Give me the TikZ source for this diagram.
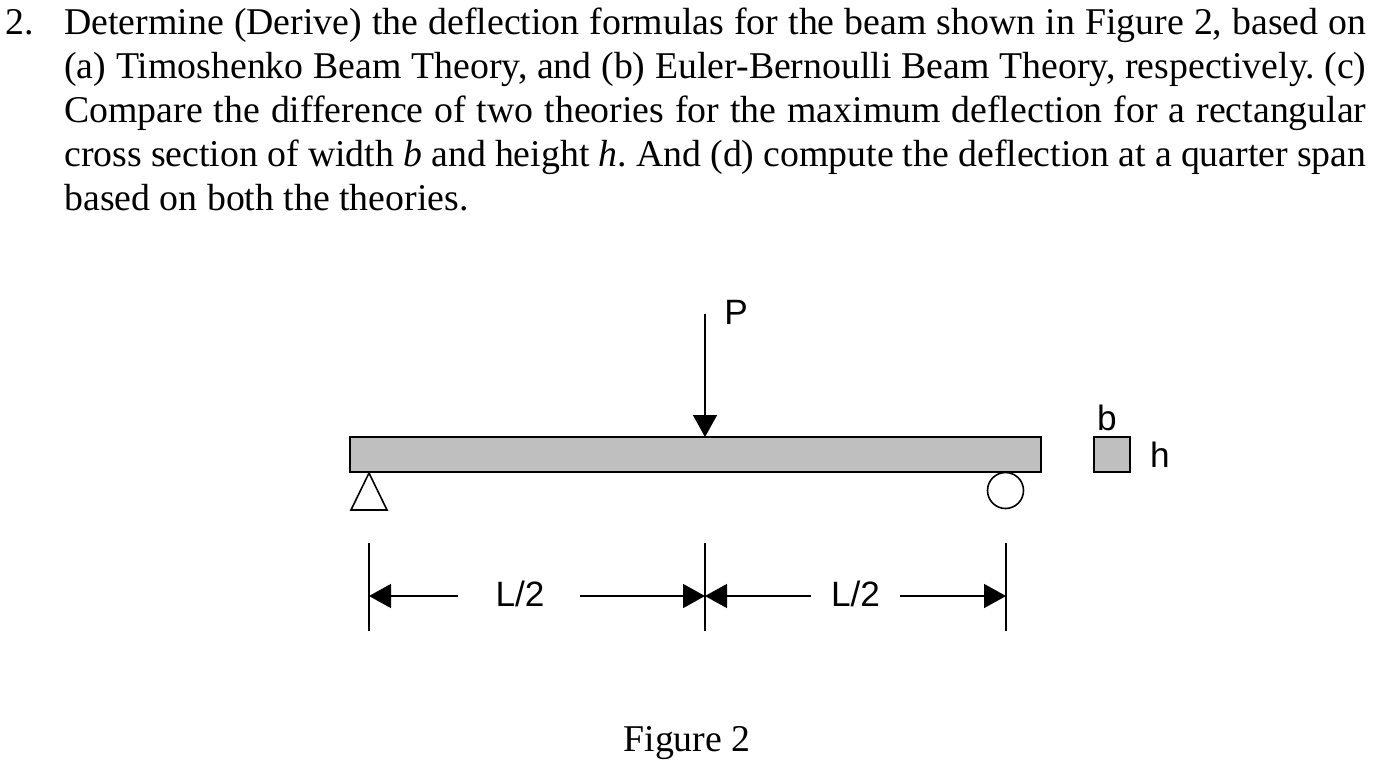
\documentclass[tikz,border=0pt]{standalone}
\usepackage{fontspec}
\setmainfont{Liberation Serif}
\setsansfont{Liberation Sans}
\usetikzlibrary{arrows.meta}
\tikzset{
%Define standard arrow tip
    >={Triangle[length=11pt,width=12pt]},
%Define style for beam and section
    beam/.style={
           rectangle,
           draw=black,
           line width=0.9pt,
           fill=black!25,
           inner sep=0pt,
           minimum height=17.5pt},
%Define style for supports
    support/.style={
           draw=black,
           line width=0.8pt,
           fill=white,
           inner sep=0pt},
%Define style for texts
    para/.style={
           anchor=north west,
           inner sep=0pt,
           text width=651pt,
           align=justify,
           font=\fontsize{18.9}{22}\selectfont\frenchspacing},
    lab/.style={
           inner sep=0pt,
           font=\sffamily\fontsize{17.6}{20}\selectfont},
% Define arrow style
    pil/.style={
           ->,
           line width=0.75pt},
    tick/.style={
           -,
           line width=0.75pt}
}
\begin{document}
\begin{tikzpicture}[x=0.5pt,y=-0.5pt]
 \useasboundingbox (0,0) rectangle (1384,770);
 \node[para,text width=20pt] (num) at (5,3) {\strut 2.};
 \node[para] (question) at (64,3) {\strut Determine (Derive) the deflection formulas for the beam shown in Figure 2, based on\linebreak
 (a) Timoshenko Beam Theory, and (b) Euler-Bernoulli Beam Theory, respectively. (c)\linebreak
 Compare the difference of two theories for the maximum deflection for a rectangular\linebreak
 cross section of width \textit{b} and height \textit{h}. And (d) compute the deflection at a quarter span\linebreak
 based on both the theories.};
 % beam, section
 \node[beam,minimum width=345.5pt] (bar) at (695.5,454.5) {};
 \node[beam,minimum width=18pt] (sec) at (1112,454.5) {};
 \node[support,circle,minimum size=18pt] (roller) at (1005.5,490.5) {};
 \coordinate (hinge) at (369,473);
 \draw[support] (hinge) -- (387,510) -- (351,510) -- cycle;
 % load
 \coordinate (top) at (705,314);
 \coordinate (mid) at (705,437);
 \draw[pil] (top) -- (mid);
 \node[lab] (P) at (736,312) {P};
 \node[lab] (b) at (1107,418) {b};
 \node[lab] (h) at (1160,455) {h};
 % dimensions
 \foreach \nm/\xx in {A/369,B/705,C/1006}{
   \coordinate (\nm1) at (\xx,543);
   \coordinate (\nm2) at (\xx,631);
   \coordinate (\nm) at (\xx,596);
   \draw[tick] (\nm1) -- (\nm2);
 }
 \node[lab,minimum width=61pt] (left) at (519,594) {\hspace{1pt}L/2};
 \node[lab,minimum width=44.5pt] (right) at (855.5,594) {L/2};
 \draw[pil] (left.west |- A) -- (A);
 \draw[pil] (left.east |- B) -- (B);
 \draw[pil] (right.west |- B) -- (B);
 \draw[pil] (right.east |- C) -- (C);
 \node[inner sep=0pt,font=\fontsize{18.9}{22}\selectfont] (fig) at (687,743) {Figure 2};
\end{tikzpicture}
\end{document}
